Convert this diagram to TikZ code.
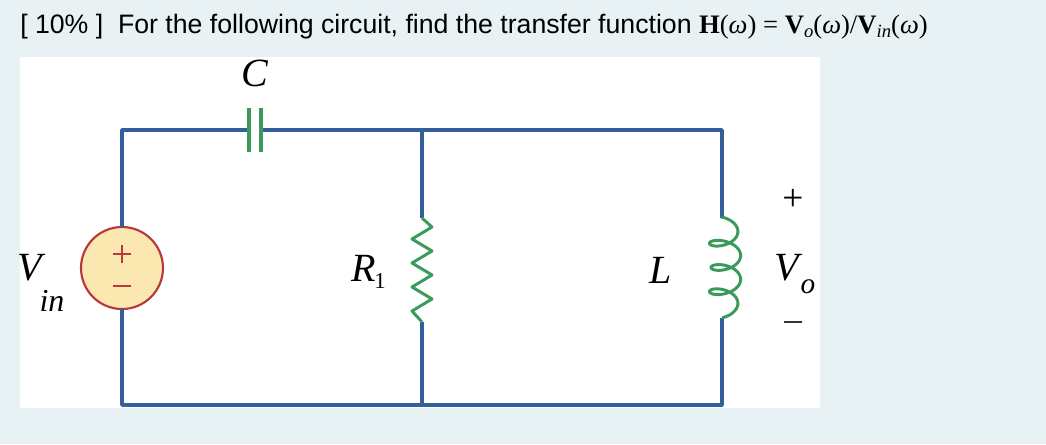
\documentclass[tikz,border=0pt]{standalone}
\usepackage{fontspec}
\setmainfont{Liberation Serif}
\newfontfamily\hdr{Liberation Sans}
\newcommand{\subsz}{\fontsize{14}{14}\selectfont}
\begin{document}
\begin{tikzpicture}[x=0.75pt,y=-0.75pt,
  wire/.style={draw=wireblue,line width=2.6pt},
  comp/.style={draw=compgreen,line width=2.2pt},
  lbl/.style={font=\fontsize{30}{30}\selectfont\itshape,inner sep=0pt}]
\definecolor{wireblue}{HTML}{33609A}
\definecolor{compgreen}{HTML}{3A9A5A}
\definecolor{bgc}{HTML}{E8F1F4}
\definecolor{srcred}{HTML}{B8383C}
\definecolor{srcfill}{HTML}{FBE7B0}
\fill[bgc] (0,0) rectangle (1046,444);
\useasboundingbox (0,0) rectangle (1046,444);
\fill[white] (20,57) rectangle (820,408);
\node[anchor=west,inner sep=0pt,font=\hdr\fontsize{20}{22}\selectfont] (title) at (20,27)
 {[ 10\% ]\ \ For the following circuit, find the transfer function {\rmfamily\bfseries H}{\rmfamily(\textit{ω}) = \textbf{V}\raisebox{-0.3ex}{\subsz\textit{o}}(\textit{ω})/\textbf{V}\raisebox{-0.3ex}{\subsz\textit{in}}(\textit{ω})}};
% nodes/coordinates
\coordinate (tl) at (122,130); \coordinate (tm) at (422,130); \coordinate (tr) at (722,130);
\coordinate (bl) at (122,405); \coordinate (bm) at (422,405); \coordinate (br) at (722,405);
\coordinate (c1) at (249,130); \coordinate (c2) at (261,130);
\coordinate (rt) at (422,218); \coordinate (rb) at (422,322);
\coordinate (lt) at (722,217); \coordinate (lb) at (722,318);
\node[circle,draw=srcred,fill=srcfill,line width=1.6pt,inner sep=0pt,minimum size=61.5pt] (src) at (122,268) {};
% wires
\draw[wire,line cap=round,line join=round] (src.north) -- (tl) -- (c1);
\draw[wire,line cap=round,line join=round] (c2) -- (tr) -- (lt);
\draw[wire] (tm) -- (rt);
\draw[wire] (rb) -- (bm);
\draw[wire] (lb) -- (br);
\draw[wire,line cap=round,line join=round] (src.south) -- (bl) -- (br);
% capacitor
\draw[comp,line width=2.6pt] (249,108) -- (249,152);
\draw[comp,line width=2.6pt] (261,108) -- (261,152);
\node[lbl] (C) at (255,73) {C};
% source signs
\draw[srcred,line width=1.4pt] (113,254)--(131,254) (122,245)--(122,263);
\draw[srcred,line width=1.4pt] (113,286)--(131,286);
\node[lbl] (V) at (30,268) {V};
\node[lbl,font=\fontsize{24}{24}\selectfont\itshape] (in) at (52,301) {in};
% resistor
\draw[comp,line join=round] (rt) -- (432,227) -- (412,239) -- (432,251) -- (412,263) -- (432,275) -- (412,287) -- (432,299) -- (412,311) -- (rb);
\node[lbl] (R) at (364,268) {R};
\node[inner sep=0pt,font=\fontsize{17}{17}\selectfont] (R1) at (380,281) {1};
% inductor
\draw[comp,domain=0:21.99,samples=200,smooth] plot ({722+15*sin(\x r)+4*sin(\x/7 r)},{217+8+3.86*\x-8*cos(\x r)});
\node[lbl] (L) at (661,270) {L};
% Vo
\node[inner sep=0pt,font=\fontsize{28}{28}\selectfont] (plus) at (793,200) {+};
\node[lbl] (Vo) at (787,268) {V};
\node[lbl,font=\fontsize{22}{22}\selectfont\itshape] (o) at (808,287) {o};
\draw[line width=1.3pt,black!80] (784,322) -- (802,322);
\end{tikzpicture}
\end{document}
